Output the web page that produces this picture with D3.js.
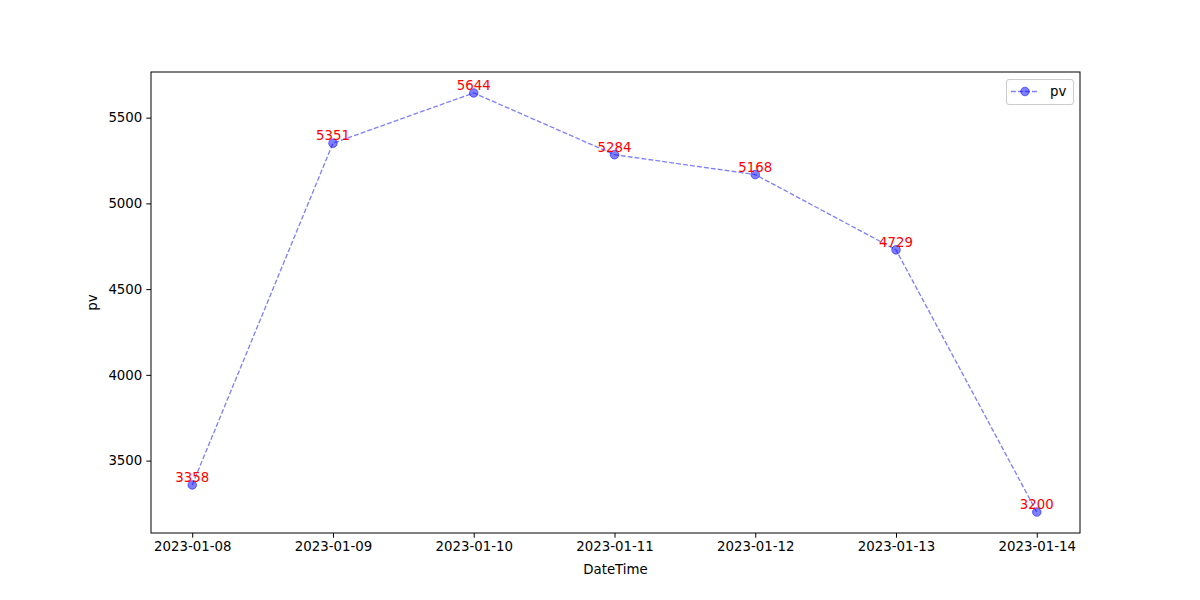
<!DOCTYPE html>
<html>
<head>
<meta charset="utf-8">
<script src="https://cdn.jsdelivr.net/npm/d3@7"></script>
<style>
body{margin:0;background:#fff;}
svg text{font-family:"DejaVu Sans",sans-serif;}
</style>
</head>
<body>
<svg id="chart" width="1200" height="600"></svg>
<script>
const dates = ["2023-01-08","2023-01-09","2023-01-10","2023-01-11","2023-01-12","2023-01-13","2023-01-14"];
const pv = [3358,5351,5644,5284,5168,4729,3200];
const yTicks = [3500,4000,4500,5000,5500];

const svg = d3.select("#chart");
const L=151,R=1080,T=72,B=533;
const n=dates.length;
const x = d3.scaleLinear().domain([-0.3,n-1+0.3]).range([L,R]);
const ymin=d3.min(pv), ymax=d3.max(pv), pad=(ymax-ymin)*0.05;
const y = d3.scaleLinear().domain([ymin-pad,ymax+pad]).range([B,T]);

const fs="13.33px";
const xa = svg.append("g").attr("transform",`translate(-1,${B})`)
  .call(d3.axisBottom(x).tickValues(d3.range(n)).tickFormat(i=>dates[i]).tickSize(4.7).tickPadding(4));
xa.select(".domain").remove();
xa.selectAll("text").attr("font-size",fs).attr("fill","#000");
xa.selectAll("line").attr("stroke","#000").attr("stroke-width",1);
const ya = svg.append("g").attr("transform",`translate(${L},0)`)
  .call(d3.axisLeft(y).tickValues(yTicks).tickFormat(d3.format("d")).tickSize(4.7).tickPadding(4));
ya.select(".domain").remove();
ya.selectAll("text").attr("font-size",fs).attr("fill","#000");
ya.selectAll("line").attr("stroke","#000").attr("stroke-width",1);

svg.append("rect").attr("x",L).attr("y",T).attr("width",R-L).attr("height",B-T)
  .attr("fill","none").attr("stroke","#000").attr("stroke-width",1);

svg.append("text").attr("x",(L+R)/2).attr("y",574).attr("text-anchor","middle").attr("font-size",fs).text("DateTime");
svg.append("text").attr("transform",`translate(97,${(T+B)/2}) rotate(-90)`).attr("text-anchor","middle").attr("font-size",fs).text("pv");

const dash="4.9,2.1";
const line = d3.line().x((d,i)=>x(i)-1).y(d=>y(d));
svg.append("path").datum(pv).attr("d",line).attr("fill","none")
  .attr("stroke","blue").attr("stroke-opacity",0.5).attr("stroke-width",1.33).attr("stroke-dasharray",dash);
svg.selectAll("circle.pt").data(pv).enter().append("circle").attr("class","pt")
  .attr("cx",(d,i)=>x(i)-1).attr("cy",d=>y(d)).attr("r",4.3).attr("fill","blue").attr("fill-opacity",0.5)
  .attr("stroke","blue").attr("stroke-opacity",0.5).attr("stroke-width",1);
svg.selectAll("text.lbl").data(pv).enter().append("text").attr("class","lbl")
  .attr("x",(d,i)=>x(i)-1).attr("y",d=>y(d)-3).attr("text-anchor","middle").attr("font-size",fs).attr("fill","red").text(d=>d);

const lg = svg.append("g");
lg.append("rect").attr("x",1006.5).attr("y",79.5).attr("width",67).attr("height",25).attr("rx",2.5)
  .attr("fill","#fff").attr("fill-opacity",0.8).attr("stroke","#ccc").attr("stroke-width",1);
lg.append("line").attr("x1",1011).attr("x2",1039).attr("y1",91.5).attr("y2",91.5)
  .attr("stroke","blue").attr("stroke-opacity",0.5).attr("stroke-width",1.33).attr("stroke-dasharray",dash);
lg.append("circle").attr("cx",1025).attr("cy",91.5).attr("r",4.3).attr("fill","blue").attr("fill-opacity",0.5)
  .attr("stroke","blue").attr("stroke-opacity",0.5);
lg.append("text").attr("x",1050).attr("y",96).attr("font-size",fs).text("pv");
</script>
</body>
</html>
